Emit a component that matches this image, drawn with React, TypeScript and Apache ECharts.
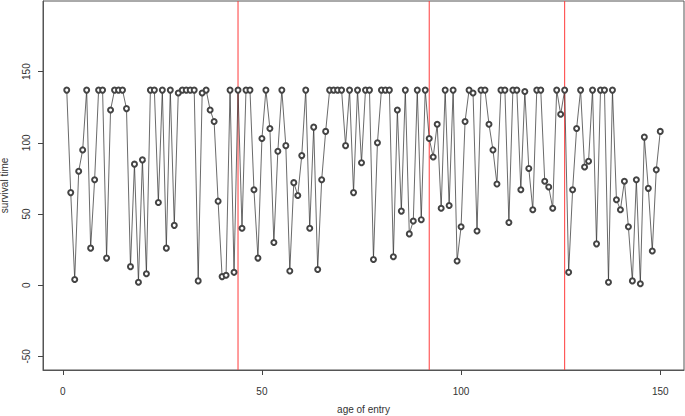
import React, { useEffect, useRef } from "react";
import * as echarts from "echarts";

const survival: number[] = [
  137, 65, 4, 80, 95, 137, 26, 74, 137, 137,
  19, 123, 137, 137, 137, 124, 13, 85, 2, 88,
  8, 137, 137, 58, 137, 26, 137, 42, 135, 137,
  137, 137, 137, 3, 135, 137, 123, 115, 59, 6,
  7, 137, 9, 137, 40, 137, 137, 67, 19, 103,
  137, 110, 30, 94, 137, 98, 10, 72, 63, 91,
  137, 40, 111, 11, 74, 108, 137, 137, 137, 137,
  98, 137, 65, 137, 86, 137, 137, 18, 100, 137,
  137, 137, 20, 123, 52, 137, 36, 45, 137, 46,
  137, 103, 90, 113, 54, 137, 56, 137, 17, 41,
  115, 137, 135, 38, 137, 137, 113, 95, 71, 137,
  137, 44, 137, 137, 67, 136, 82, 53, 137, 137,
  73, 69, 54, 137, 120, 137, 9, 67, 110, 137,
  83, 87, 137, 29, 137, 137, 2, 137, 60, 53,
  73, 41, 3, 74, 1, 104, 68, 24, 81, 108,
];
const ageOfEntry: number[] = survival.map((_, i) => i + 1);
const xTicks: number[] = [0, 50, 100, 150];
const yTicks: number[] = [-50, 0, 50, 100, 150];
const verticalLines: number[] = [44, 92, 126];

const X_MIN = -4.96;
const X_MAX = 155.96;
const Y_MIN = -59.6;
const Y_MAX = 199.6;

export default function App() {
  const ref = useRef<HTMLDivElement>(null);
  useEffect(() => {
    if (!ref.current) return;
    const chart = echarts.init(ref.current, null, { renderer: "svg" });
    const font = "Liberation Sans, Arial, sans-serif";
    const axisCommon = {
      type: "value",
      nameLocation: "middle",
      nameTextStyle: { fontFamily: font, fontSize: 10, color: "#333" },
      axisLine: { show: true, onZero: false, lineStyle: { color: "#555", width: 1 } },
      splitLine: { show: false },
    };
    chart.setOption({
      animation: false,
      backgroundColor: "#ffffff",
      grid: {
        left: 43,
        top: 1,
        right: 1,
        bottom: 46,
        containLabel: false,
        outerBoundsMode: "none",
        show: true,
        borderColor: "#555555",
        borderWidth: 1,
        backgroundColor: "transparent",
      },
      xAxis: {
        ...axisCommon,
        min: X_MIN,
        max: X_MAX,
        name: "age of entry",
        nameGap: 34,
        axisTick: {
          show: true,
          inside: false,
          length: 5,
          customValues: xTicks,
          lineStyle: { color: "#444", width: 1 },
        },
        axisLabel: {
          customValues: xTicks,
          margin: 16,
          fontFamily: font,
          fontSize: 10,
          color: "#333",
        },
      },
      yAxis: {
        ...axisCommon,
        min: Y_MIN,
        max: Y_MAX,
        name: "survival time",
        nameGap: 34,
        axisTick: {
          show: true,
          inside: false,
          length: 5,
          customValues: yTicks,
          lineStyle: { color: "#444", width: 1 },
        },
        axisLabel: {
          customValues: yTicks,
          rotate: 90,
          margin: 12,
          fontFamily: font,
          fontSize: 10,
          color: "#333",
        },
      },
      series: [
        ...verticalLines.map((v) => ({
          type: "line",
          data: [
            [v, Y_MIN],
            [v, Y_MAX],
          ],
          symbol: "none",
          silent: true,
          lineStyle: { color: "#ff3b3b", width: 1 },
          z: 1,
        })),
        {
          type: "line",
          data: ageOfEntry.map((a, i) => [a, survival[i]]),
          symbol: "emptyCircle",
          symbolSize: 5,
          showAllSymbol: true,
          lineStyle: { color: "#2a2a2a", width: 0.7 },
          itemStyle: { color: "#444", borderColor: "#444", borderWidth: 0.5 },
          z: 2,
        },
      ],
    });
    return () => chart.dispose();
  }, []);
  return (
    <div
      ref={ref}
      style={{ position: "fixed", left: 0, top: 0, width: 685, height: 416 }}
    />
  );
}
